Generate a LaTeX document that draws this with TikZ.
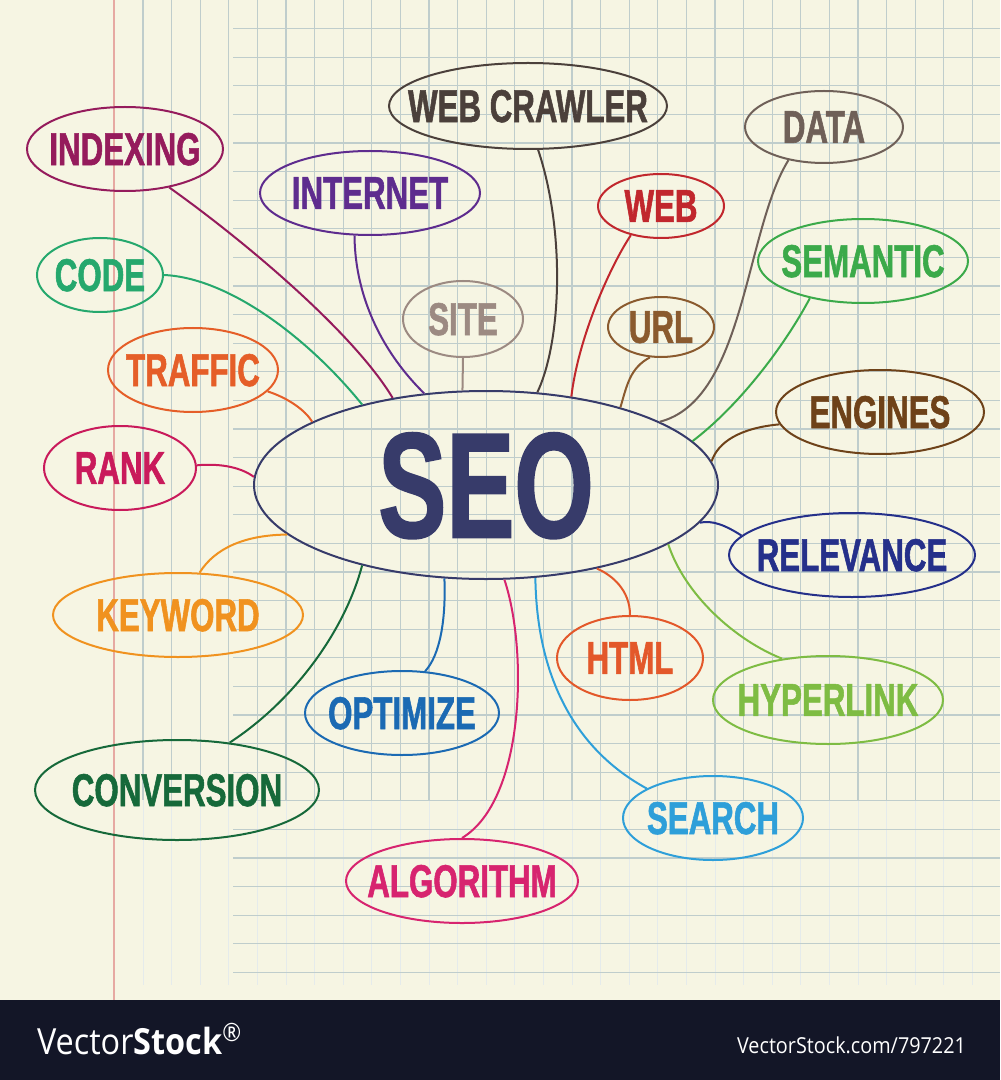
\documentclass[tikz,border=0pt]{standalone}
\usepackage{fontspec}
\usepackage{tikz}
\usetikzlibrary{shapes.geometric}
\newfontfamily\lblfont{Liberation Sans}[FakeStretch=0.68,FakeBold=1.2]
\newfontfamily\footfont{Open Sans}[FakeStretch=0.9]

\definecolor{paper}{HTML}{F6F5E3}
\definecolor{gridc}{HTML}{BFCDCC}
\definecolor{marginc}{HTML}{E6A9A2}
\definecolor{barc}{HTML}{131627}
\definecolor{seoc}{HTML}{373B6A}
\definecolor{indexingc}{HTML}{951B5C}
\definecolor{internetc}{HTML}{5E2C8E}
\definecolor{crawlerc}{HTML}{4B403B}
\definecolor{datac}{HTML}{6F6058}
\definecolor{webc}{HTML}{C1272D}
\definecolor{semanticc}{HTML}{3BAA4A}
\definecolor{codec}{HTML}{25A86D}
\definecolor{sitec}{HTML}{9C8A82}
\definecolor{urlc}{HTML}{8A5A2E}
\definecolor{trafficc}{HTML}{E55E28}
\definecolor{rankc}{HTML}{C91A5B}
\definecolor{enginesc}{HTML}{6E4219}
\definecolor{relevancec}{HTML}{25308A}
\definecolor{keywordc}{HTML}{F0921F}
\definecolor{htmlc}{HTML}{E3582A}
\definecolor{hyperlinkc}{HTML}{7EBC43}
\definecolor{optimizec}{HTML}{1B6AB3}
\definecolor{conversionc}{HTML}{16693A}
\definecolor{searchc}{HTML}{2E9FD9}
\definecolor{algorithmc}{HTML}{D7246F}

\newcommand{\wrd}[1]{\makebox[0pt]{\raisebox{-.5\height}[0pt][0pt]{#1}}}

\tikzset{
bubble/.style={ellipse,draw=#1,text=#1,line width=1pt,inner sep=0pt,
font=\lblfont\bfseries\fontsize{23}{23}\selectfont},
link/.style={draw=#1,line width=1pt}
}

\begin{document}
\begin{tikzpicture}[x=0.5pt,y=-0.5pt]
\useasboundingbox (0,0) rectangle (1000,1080);
\fill[paper] (0,0) rectangle (1000,1000);
\fill[barc] (0,1000) rectangle (1000,1080);
\foreach \k in {0,...,29}
\draw[gridc,line width=0.6pt] ({143+28.6*\k},0) -- ({143+28.6*\k},800);
\foreach \k in {0,...,29}
\draw[gridc!40,line width=0.5pt] ({143+28.6*\k},800) -- ({143+28.6*\k},985);
\foreach \k in {1,...,34}
\draw[gridc,line width=0.6pt] (233,{28.6*\k}) -- (1000,{28.6*\k});
\draw[marginc,line width=0.6pt] (114,0) -- (114,1000);

\node (seo) [bubble=seoc,minimum width=232pt,minimum height=94pt,
font=\lblfont\bfseries\fontsize{75}{75}\selectfont] at (486,485) {\wrd{SEO}};
\node (indexing) [bubble=indexingc,minimum width=98pt,minimum height=42pt] at (125,149) {\wrd{INDEXING}};
\node (internet) [bubble=internetc,minimum width=110pt,minimum height=42pt] at (370,193) {\wrd{INTERNET}};
\node (crawler) [bubble=crawlerc,minimum width=139pt,minimum height=43pt] at (528,106) {\wrd{WEB CRAWLER}};
\node (data) [bubble=datac,minimum width=79pt,minimum height=36pt] at (824,127) {\wrd{DATA}};
\node (web) [bubble=webc,minimum width=63pt,minimum height=32pt] at (661,206) {\wrd{WEB}};
\node (semantic) [bubble=semanticc,minimum width=105pt,minimum height=42pt] at (863,261) {\wrd{SEMANTIC}};
\node (code) [bubble=codec,minimum width=63pt,minimum height=37pt] at (100,275) {\wrd{CODE}};
\node (site) [bubble=sitec,minimum width=60pt,minimum height=38pt] at (463,319) {\wrd{SITE}};
\node (url) [bubble=urlc,minimum width=53pt,minimum height=30pt] at (661,327) {\wrd{URL}};
\node (traffic) [bubble=trafficc,minimum width=85pt,minimum height=42pt] at (193,370) {\wrd{TRAFFIC}};
\node (rank) [bubble=rankc,minimum width=76pt,minimum height=42pt] at (120,468) {\wrd{RANK}};
\node (engines) [bubble=enginesc,minimum width=104pt,minimum height=42pt] at (880,412) {\wrd{ENGINES}};
\node (relevance) [bubble=relevancec,minimum width=123pt,minimum height=42pt] at (852,555) {\wrd{RELEVANCE}};
\node (keyword) [bubble=keywordc,minimum width=125pt,minimum height=42pt] at (178,615) {\wrd{KEYWORD}};
\node (html) [bubble=htmlc,minimum width=73pt,minimum height=42pt] at (630,658) {\wrd{HTML}};
\node (hyperlink) [bubble=hyperlinkc,minimum width=115pt,minimum height=44pt] at (828,700) {\wrd{HYPERLINK}};
\node (optimize) [bubble=optimizec,minimum width=97pt,minimum height=42pt] at (402,713) {\wrd{OPTIMIZE}};
\node (conversion) [bubble=conversionc,minimum width=142pt,minimum height=50pt] at (177,790) {\wrd{CONVERSION}};
\node (search) [bubble=searchc,minimum width=90pt,minimum height=42pt] at (713,818) {\wrd{SEARCH}};
\node (algorithm) [bubble=algorithmc,minimum width=116pt,minimum height=42pt] at (462,881) {\wrd{ALGORITHM}};

\draw [link=indexingc] (indexing.-41) .. controls (250,245) and (355,335) .. (seo.137);
\draw [link=internetc] (internet.250) .. controls (355,300) and (385,355) .. (seo.124);
\draw [link=crawlerc] (crawler.-77) .. controls (565,230) and (562,340) .. (seo.61);
\draw [link=sitec] (site.south) -- (seo.104);
\draw [link=webc] (web.224) .. controls (608,270) and (578,340) .. (seo.46);
\draw [link=urlc] (url.-110) .. controls (630,368) and (627,385) .. (seo.30);
\draw [link=datac] (data.223) .. controls (745,230) and (745,400) .. (seo.20);
\draw [link=semanticc] (semantic.215) .. controls (785,345) and (740,405) .. (seo.12);
\draw [link=enginesc] (engines.187) .. controls (740,428) and (718,442) .. (seo.6);
\draw [link=relevancec] (relevance.170) .. controls (725,525) and (712,520) .. (seo.-10);
\draw [link=hyperlinkc] (hyperlink.138) .. controls (735,640) and (685,595) .. (seo.-18);
\draw [link=htmlc] (html.north) .. controls (630,590) and (612,575) .. (seo.-37);
\draw [link=searchc] (search.156) .. controls (585,755) and (537,690) .. (seo.-62);
\draw [link=algorithmc] (algorithm.north) .. controls (525,800) and (528,650) .. (seo.-79);
\draw [link=optimizec] (optimize.61) .. controls (440,655) and (446,620) .. (seo.-114);
\draw [link=conversionc] (conversion.42) .. controls (295,700) and (345,630) .. (seo.-147);
\draw [link=keywordc] (keyword.63) .. controls (215,548) and (245,535) .. (seo.194);
\draw [link=rankc] (rank.2) .. controls (222,463) and (242,468) .. (seo.178);
\draw [link=trafficc] (traffic.-16) .. controls (288,398) and (305,410) .. (seo.160);
\draw [link=codec] (code.east) .. controls (230,278) and (310,340) .. (seo.147);

\node (brand) [anchor=base west,text=white,font=\footfont\fontsize{18}{18}\selectfont]
at (30,1054) {Vector\textbf{Stock}\textsuperscript{\textregistered}};
\node (stockid) [anchor=base east,text=white,font=\footfont\fontsize{11}{11}\selectfont]
at (973,1053) {VectorStock.com/797221};
\end{tikzpicture}
\end{document}
